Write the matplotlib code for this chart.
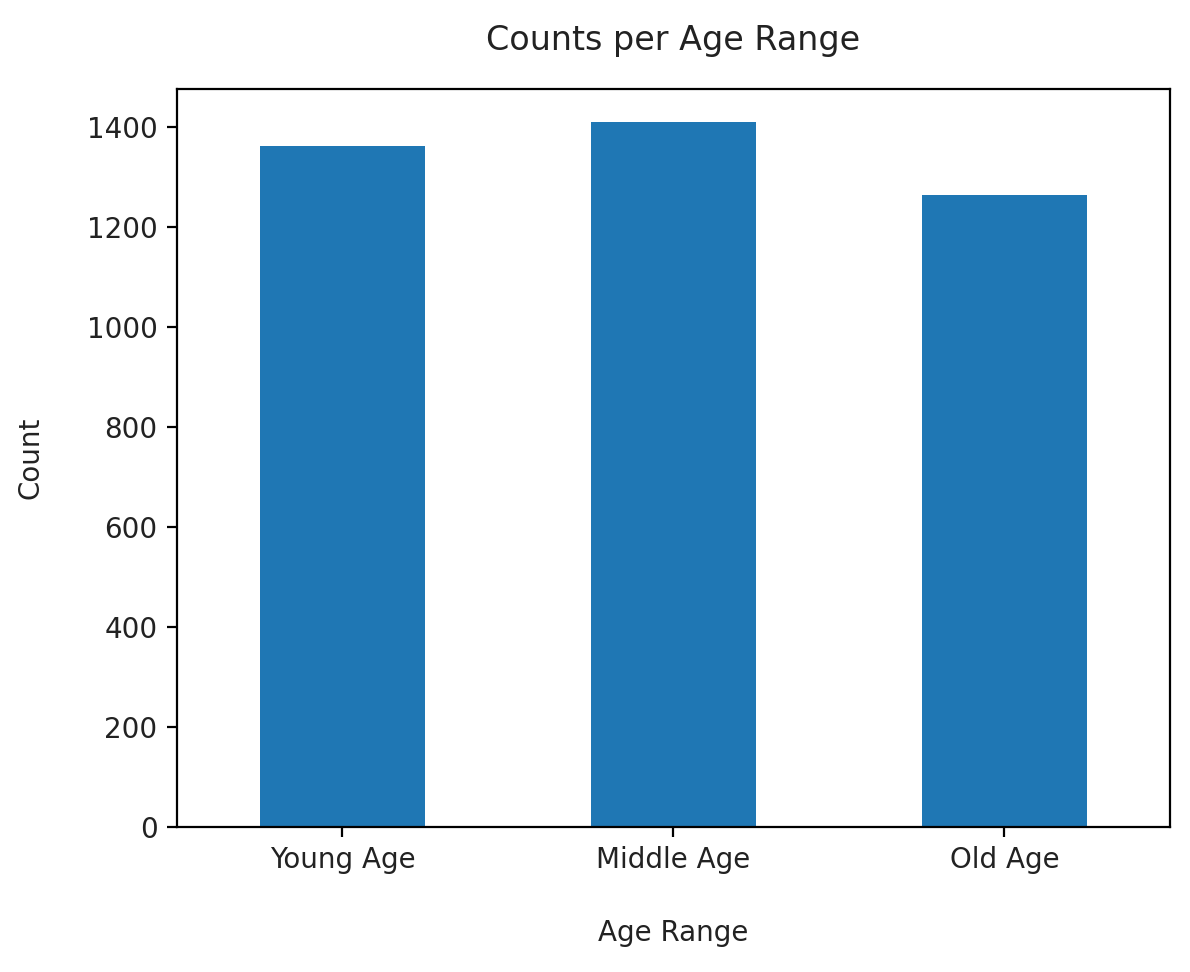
import matplotlib
matplotlib.use("Agg")
import matplotlib.pyplot as plt

age_ranges = ["Young Age", "Middle Age", "Old Age"]
counts = [1362, 1410, 1265]

plt.rcParams["font.size"] = 10
plt.rcParams["text.color"] = "#222222"
plt.rcParams["axes.labelcolor"] = "#222222"
plt.rcParams["xtick.labelcolor"] = "#222222"
plt.rcParams["ytick.labelcolor"] = "#222222"

fig = plt.figure(figsize=(5.95, 4.86), dpi=200)
ax = fig.add_axes([0.1487, 0.1492, 0.8345, 0.7592])
x = range(len(age_ranges))
ax.bar(x, counts, width=0.5, color="#1f77b4")
ax.set_xlim(-0.5, len(age_ranges) - 0.5)
ax.set_ylim(0, 1476)
ax.set_xticks(list(x))
ax.set_xticklabels(age_ranges)
ax.set_title("Counts per Age Range", pad=14)
ax.set_xlabel("Age Range", labelpad=16)
ax.set_ylabel("Count", labelpad=15)

fig.savefig("out.png", dpi=200)
